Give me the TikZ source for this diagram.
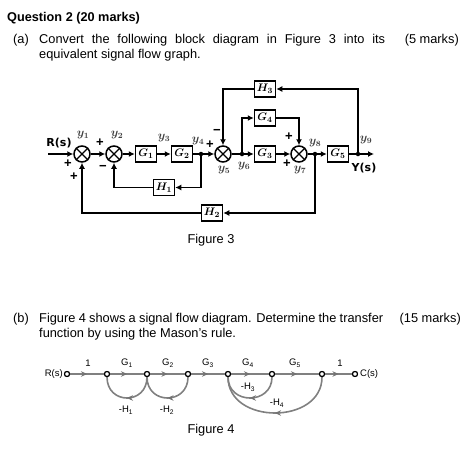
\documentclass[tikz,border=0pt]{standalone}
\usepackage{amsmath}
\usepackage{fontspec}
\setmainfont{Liberation Sans}
\newfontfamily\vfont{DejaVu Sans}
\usetikzlibrary{arrows.meta,positioning,calc,decorations.markings}

\begin{document}
\begin{tikzpicture}[x=1pt,y=-1pt]

        \useasboundingbox (0,0) rectangle (475,463);

        % Styles for the block diagram and the flow graph
        \tikzset{
            txt/.style={inner sep=0pt,font=\fontsize{12.8}{15}\selectfont},
            blk/.style={draw,line width=1.5pt,fill=white,inner sep=0pt,
                minimum width=21pt,minimum height=16pt,
                font=\fontsize{11}{13}\selectfont},
            sumjn/.style={draw,line width=1.5pt,circle,inner sep=0pt,
                minimum size=16pt},
            dotn/.style={circle,fill,inner sep=0pt,minimum size=4.5pt},
            sig/.style={line width=1.5pt,-{Latex[length=6pt,width=6pt]}},
            wire/.style={line width=1.5pt},
            ylbl/.style={inner sep=0pt,text=black!75,
                font=\fontsize{12}{14}\selectfont},
            sgn/.style={inner sep=0pt,font=\fontsize{13}{15}\selectfont\bfseries},
            sfnode/.style={circle,draw,line width=1.1pt,fill=white,
                inner sep=0pt,minimum size=5pt},
            sflbl/.style={inner sep=0pt,font=\fontsize{9.5}{11}\selectfont},
            fwd/.style={draw=black!50,line width=1.6pt,postaction={decorate},
                decoration={markings,mark=at position 0.5 with
                {\arrow[black!55]{Stealth[length=6pt,width=5.5pt]}}}}
        }

        % Question text
        \node[txt,anchor=base west] (title) at (7,21)
        {\fontsize{12.7}{15}\selectfont\bfseries Question 2 (20 marks)};
        \node[txt,anchor=base west] (pa) at (13,44) {(a)};
        \node[txt,anchor=base west] (qa1) at (39,44)
        {\makebox[346pt][s]{Convert the following block diagram in Figure 3 into its}};
        \node[txt,anchor=base east] (ma) at (459,44) {(5 marks)};
        \node[txt,anchor=base west] (qa2) at (39,58.5)
        {equivalent signal flow graph.};

        % Block diagram of Figure 3
        \begin{scope}
            \coordinate (in) at (48,154);
            \node[sumjn] (S1) at (82,154) {};
            \node[sumjn] (S2) at (114,154) {};
            \node[blk] (G1) at (146,154) {$\boldsymbol{G_1}$};
            \node[blk] (G2) at (182,154) {$\boldsymbol{G_2}$};
            \node[dotn] (D4) at (201,154) {};
            \node[sumjn] (S3) at (223,154) {};
            \node[dotn] (D6) at (242,154) {};
            \node[blk] (G3) at (265,154) {$\boldsymbol{G_3}$};
            \node[sumjn] (S4) at (299,154) {};
            \node[dotn] (D8) at (315,154) {};
            \node[blk] (G5) at (338,154) {$\boldsymbol{G_5}$};
            \node[dotn] (D9) at (358,154) {};
            \coordinate (out) at (374,154);
            \node[blk] (H3) at (265,89) {$\boldsymbol{H_3}$};
            \node[blk] (G4) at (265,118) {$\boldsymbol{G_4}$};
            \node[blk] (H1) at (164,187.5) {$\boldsymbol{H_1}$};
            \node[blk] (H2) at (212,213) {$\boldsymbol{H_2}$};

            \foreach\x in {1,...,4}{
                \draw[line width=1.2pt] (S\x.north west) -- (S\x.south east);
                \draw[line width=1.2pt] (S\x.north east) -- (S\x.south west);
            }
        \end{scope}

        \begin{scope}
            \draw[sig] (in) -- (S1);
            \draw[sig] (S1) -- (S2);
            \draw[sig] (S2) -- (G1);
            \draw[sig] (G1) -- (G2);
            \draw[wire] (G2) -- (D4);
            \draw[sig] (D4) -- (S3);
            \draw[wire] (S3) -- (D6);
            \draw[sig] (D6) -- (G3);
            \draw[sig] (G3) -- (S4);
            \draw[wire] (S4) -- (D8);
            \draw[sig] (D8) -- (G5);
            \draw[sig] (G5) -- (out);
            \draw[sig] (D9) |- (H3);
            \draw[sig] (H3) -| (S3);
            \draw[sig] (D6) |- (G4);
            \draw[sig] (G4) -| (S4);
            \draw[sig] (D4) |- (H1);
            \draw[sig] (H1) -| (S2);
            \draw[sig] (D8) |- (H2);
            \draw[sig] (H2) -| (S1);
        \end{scope}

        % Signal names and signs
        \node[inner sep=0pt,font=\vfont\fontsize{11}{13}\selectfont\bfseries]
        (Rs) at (59,143) {R(s)};
        \node[inner sep=0pt,font=\vfont\fontsize{11}{13}\selectfont\bfseries]
        (Ys) at (364,168) {Y(s)};
        \node[ylbl] (y1) at (83,135) {$\boldsymbol{y_1}$};
        \node[ylbl] (y2) at (117,135) {$\boldsymbol{y_2}$};
        \node[ylbl] (y3) at (164,138) {$\boldsymbol{y_3}$};
        \node[ylbl] (y4) at (198,141) {$\boldsymbol{y_4}$};
        \node[ylbl] (y5) at (224,170) {$\boldsymbol{y_5}$};
        \node[ylbl] (y6) at (244,166) {$\boldsymbol{y_6}$};
        \node[ylbl] (y7) at (300,170) {$\boldsymbol{y_7}$};
        \node[ylbl] (y8) at (315,143) {$\boldsymbol{y_8}$};
        \node[ylbl] (y9) at (366,140) {$\boldsymbol{y_9}$};
        \node[sgn] (p1) at (68,164) {+};
        \node[sgn] (p2) at (74,177) {+};
        \node[sgn] (p3) at (100,143) {+};
        \node[sgn] (m1) at (103,168) {−};
        \node[sgn] (p4) at (210,145) {+};
        \node[sgn] (m2) at (217,132) {−};
        \node[sgn] (p5) at (289,137) {+};
        \node[sgn] (p6) at (287,164) {+};

        \node[txt,anchor=base] (fig3) at (211,243) {Figure 3};

        % Part (b) text
        \node[txt,anchor=base west] (pb) at (13,322) {(b)};
        \node[txt,anchor=base west] (qb1) at (39,322)
        {\makebox[344pt][s]{Figure 4 shows a signal flow diagram. Determine the transfer}};
        \node[txt,anchor=base east] (mb) at (461,322) {(15 marks)};
        \node[txt,anchor=base west] (qb2) at (39,337)
        {function by using the Mason’s rule.};

        % Signal flow graph of Figure 4
        \begin{scope}
            \node[sfnode] (N0) at (67,374) {};
            \node[sfnode] (N1) at (107,374) {};
            \node[sfnode] (N2) at (147,374) {};
            \node[sfnode] (N3) at (188,374) {};
            \node[sfnode] (N4) at (228,374) {};
            \node[sfnode] (N5) at (272,374) {};
            \node[sfnode] (N6) at (322,374) {};
            \node[sfnode] (N7) at (355,374) {};
        \end{scope}

        \begin{scope}
            \foreach\a/\b in {0/1,1/2,2/3,3/4,4/5,5/6,6/7}
            \path[fwd] (N\a) -- (N\b);
            \path[fwd] (N2) .. controls +(0,31) and +(0,31) .. (N1);
            \path[fwd] (N3) .. controls +(0,31) and +(0,31) .. (N2);
            \path[fwd] (N5) .. controls +(0,31) and +(0,31) .. (N4);
            \path[fwd] (N6) .. controls +(0,51) and +(0,51) .. (N4);
            \foreach\x in {0,...,7}
            \node[sfnode] at (N\x) {};
        \end{scope}

        \node[sflbl,anchor=east] (Rin) at (63,374) {R(s)};
        \node[sflbl,anchor=west] (Cout) at (360,374) {C(s)};
        \node[sflbl] (e1) at (88,363) {1};
        \node[sflbl] (e2) at (127,363) {G\textsubscript{1}};
        \node[sflbl] (e3) at (168,363) {G\textsubscript{2}};
        \node[sflbl] (e4) at (208,363) {G\textsubscript{3}};
        \node[sflbl] (e5) at (248,363) {G\textsubscript{4}};
        \node[sflbl] (e6) at (295,363) {G\textsubscript{5}};
        \node[sflbl] (e7) at (340,363) {1};
        \node[sflbl] (h1) at (126,410) {-H\textsubscript{1}};
        \node[sflbl] (h2) at (167,410) {-H\textsubscript{2}};
        \node[sflbl] (h3) at (248,387) {-H\textsubscript{3}};
        \node[sflbl] (h4) at (277,403) {-H\textsubscript{4}};

        \node[txt,anchor=base] (fig4) at (211,433) {Figure 4};

\end{tikzpicture}
\end{document}
